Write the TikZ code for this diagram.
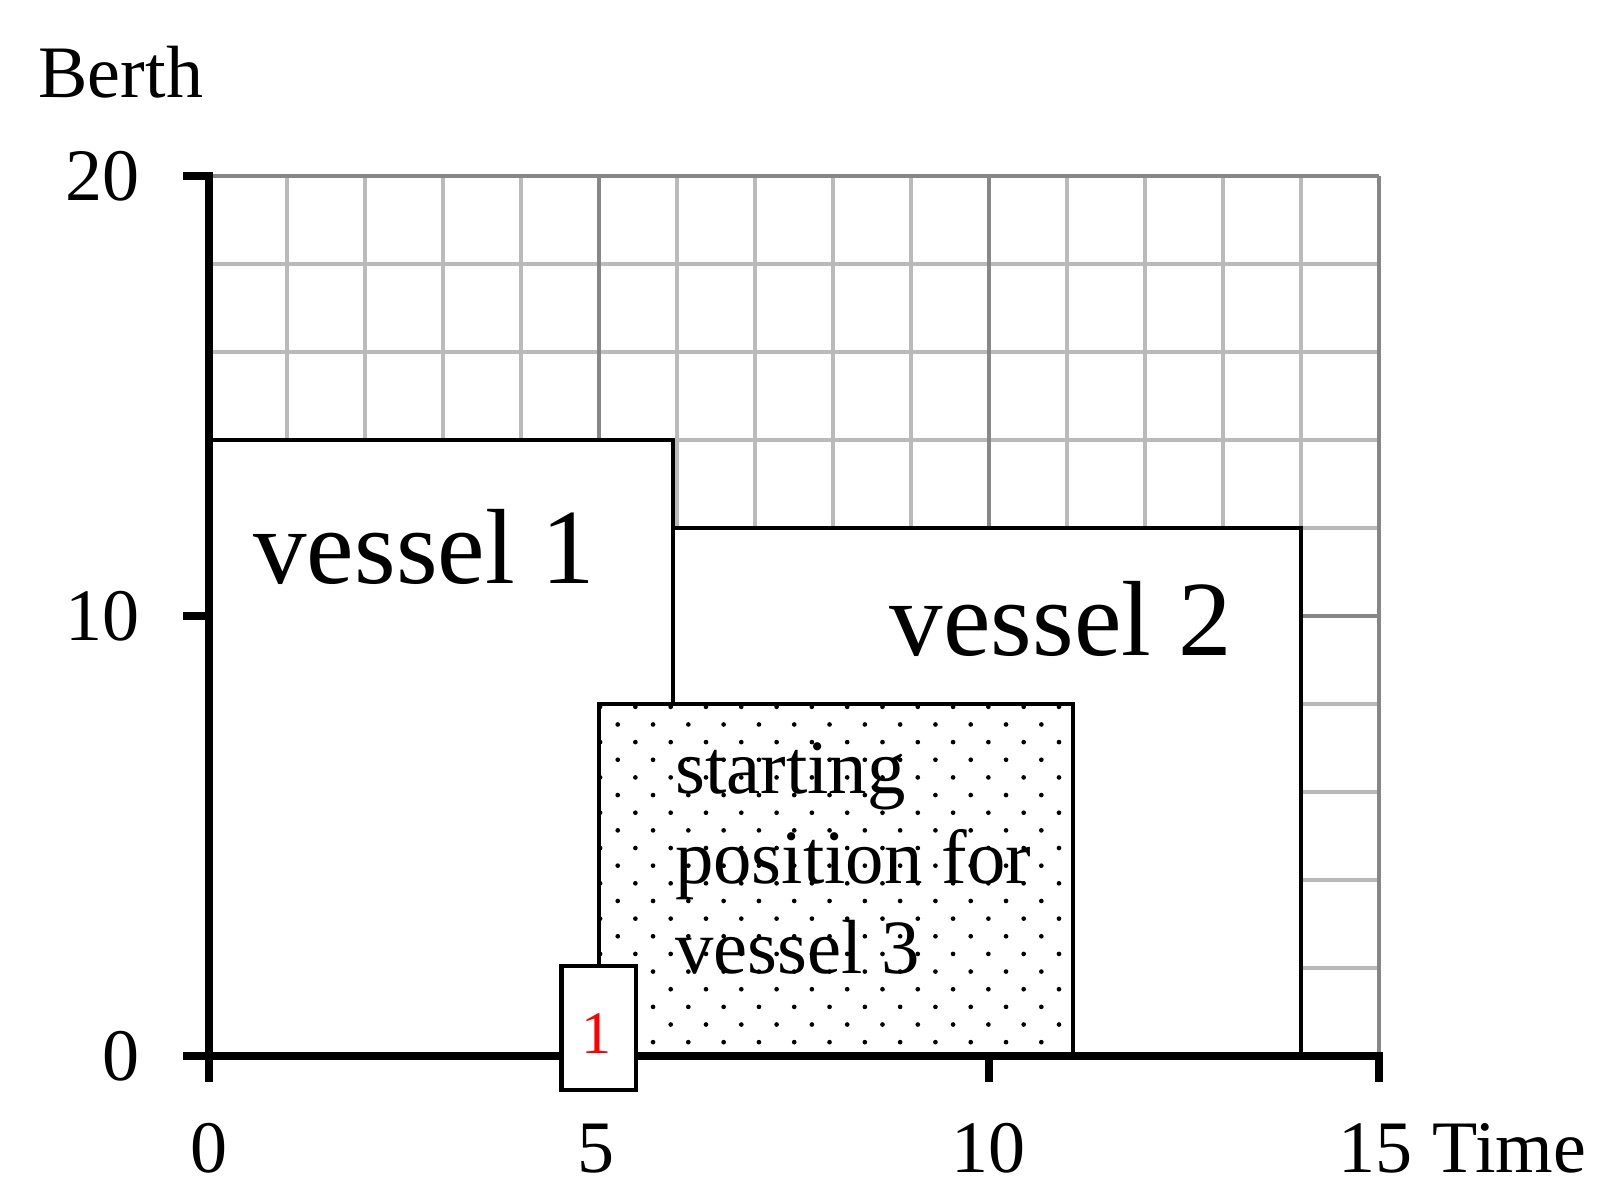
\documentclass[tikz,border=0pt]{standalone}
\usepackage{fontspec}
\setmainfont{Liberation Serif}
\usetikzlibrary{patterns.meta}

\begin{document}
\begin{tikzpicture}[x=1cm, y=0.5641cm,
  gridlight/.style={draw=black!27, line width=1.2pt},
  griddark/.style={draw=black!47, line width=1.2pt},
  vesselbox/.style={draw=black, fill=white, line width=1.5pt},
  axisline/.style={draw=black, line width=2.6pt},
  ticklabel/.style={font=\fontsize{27pt}{32pt}\selectfont, inner sep=0pt},
  vessellabel/.style={font=\fontsize{39pt}{46pt}\selectfont, inner sep=0pt},
  startlabel/.style={font=\fontsize{28pt}{32.8pt}\selectfont, inner sep=0pt, align=left}]
  \useasboundingbox (-2.679,-3.296) rectangle (17.885,24);
  \draw [gridlight] (0,0) grid [xstep=1, ystep=2] (15,20);
  \draw [griddark] (5,0) -- (5,20) (10,0) -- (10,20) (15,0) -- (15,20);
  \draw [griddark] (0,10) -- (15,10) (0,20) -- (15,20);
  \draw [vesselbox] (0,0) rectangle (5.95,14);
  \draw [vesselbox] (5.95,0) rectangle (14,12);
  \draw [vesselbox, postaction={pattern={Dots[distance=0.32cm, angle=45, radius=0.03cm]}}] (5,0) rectangle (11.08,8);
  \node [vessellabel] (vessel1) at (2.76,11.57) {vessel 1};
  \node [vessellabel] (vessel2) at (10.92,9.93) {vessel 2};
  \node [startlabel, anchor=west] (vessel3) at (5.97,4.48) {starting\\position for\\vessel 3};
  \draw [axisline] (-0.33,0) -- (15,0) -- (15,-0.585);
  \draw [axisline] (0,-0.585) -- (0,20) -- (-0.33,20);
  \draw [axisline] (-0.33,10) -- (0,10);
  \draw [axisline] (5,0) -- (5,-0.585);
  \draw [axisline] (10,0) -- (10,-0.585);
  \draw [vesselbox] (4.52,-0.77) rectangle (5.47,2.05);
  \node [font=\fontsize{22pt}{26pt}\selectfont, text=red, inner sep=0pt] (first) at (4.97,0.52) {1};
  \node [ticklabel, anchor=east] (y0) at (-0.88,0) {0};
  \node [ticklabel, anchor=east] (y10) at (-0.88,10) {10};
  \node [ticklabel, anchor=east] (y20) at (-0.88,20) {20};
  \node [ticklabel] (berth) at (-1.13,22.36) {Berth};
  \node [ticklabel, anchor=base] (x0) at (0,-2.65) {0};
  \node [ticklabel, anchor=base] (x5) at (4.96,-2.65) {5};
  \node [ticklabel, anchor=base] (x10) at (10,-2.65) {10};
  \node [ticklabel, anchor=base] (x15) at (14.96,-2.65) {15};
  \node [ticklabel, anchor=base west] (time) at (15.68,-2.65) {Time};
\end{tikzpicture}
\end{document}
